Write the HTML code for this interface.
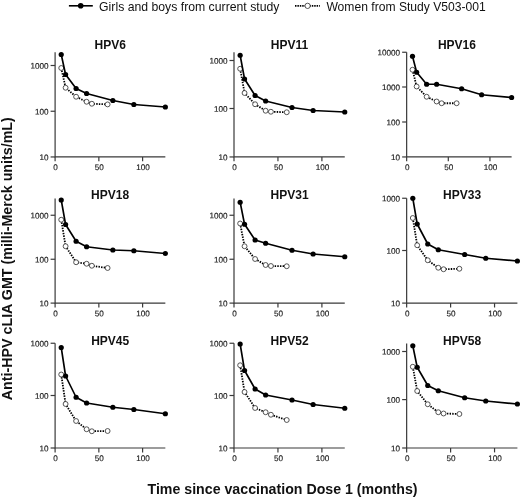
<!DOCTYPE html>
<html><head><meta charset="utf-8"><title>Figure</title>
<style>
html,body{margin:0;padding:0;background:#fff;}
svg{display:block;}
text{font-family:"Liberation Sans",Arial,sans-serif;fill:#1a1a1a;}
.t{font-size:8.1px;fill:#1a1a1a;stroke:#1a1a1a;stroke-width:0.15px;}
.ttl{font-size:12px;font-weight:bold;text-anchor:middle;fill:#111;}
.lg{font-size:12.2px;fill:#111;}
.al{font-size:14.2px;font-weight:bold;fill:#111;}
</style></head><body>
<svg width="520" height="499" viewBox="0 0 520 499">
<rect width="520" height="499" fill="#fff"/>

<line x1="68.9" y1="5.8" x2="92.8" y2="5.8" stroke="#000" stroke-width="1.6"/><circle cx="80.7" cy="5.8" r="2.8" fill="#000"/>
<text class="lg" x="99.1" y="10.6" textLength="180.3" lengthAdjust="spacingAndGlyphs">Girls and boys from current study</text>
<line x1="295" y1="5.85" x2="319.8" y2="5.85" stroke="#000" stroke-width="1.7" stroke-dasharray="1.5 0.9"/><circle cx="307.6" cy="5.85" r="2.65" fill="#fff" stroke="#383838" stroke-width="0.85"/>
<text class="lg" x="326.4" y="10.6" textLength="159.4" lengthAdjust="spacingAndGlyphs">Women from Study V503-001</text>
<text class="al" transform="translate(12.2,400.2) rotate(-90)" textLength="283" lengthAdjust="spacingAndGlyphs">Anti-HPV cLIA GMT (milli-Merck units/mL)</text>
<text class="al" x="147.5" y="493.7" textLength="270" lengthAdjust="spacingAndGlyphs">Time since vaccination Dose 1 (months)</text>
<g>
<text class="ttl" x="110.2" y="49">HPV6</text>
<path d="M55.10 52.30V156.95H165.35" fill="none" stroke="#3a3a3a" stroke-width="1.2"/>
<line x1="50.60" y1="65.50" x2="55.10" y2="65.50" stroke="#3a3a3a" stroke-width="1.2"/>
<text class="t" text-anchor="end" transform="translate(48.50 68.70) rotate(0.3)">1000</text>
<line x1="50.60" y1="111.25" x2="55.10" y2="111.25" stroke="#3a3a3a" stroke-width="1.2"/>
<text class="t" text-anchor="end" transform="translate(48.50 114.45) rotate(0.3)">100</text>
<line x1="50.60" y1="156.95" x2="55.10" y2="156.95" stroke="#3a3a3a" stroke-width="1.2"/>
<text class="t" text-anchor="end" transform="translate(48.50 160.15) rotate(0.3)">10</text>
<line x1="55.10" y1="156.95" x2="55.10" y2="161.35" stroke="#3a3a3a" stroke-width="1.2"/>
<text class="t" text-anchor="middle" transform="translate(55.60 170.05) rotate(0.3)">0</text>
<line x1="98.85" y1="156.95" x2="98.85" y2="161.35" stroke="#3a3a3a" stroke-width="1.2"/>
<text class="t" text-anchor="middle" transform="translate(99.35 170.05) rotate(0.3)">50</text>
<line x1="142.60" y1="156.95" x2="142.60" y2="161.35" stroke="#3a3a3a" stroke-width="1.2"/>
<text class="t" text-anchor="middle" transform="translate(143.10 170.05) rotate(0.3)">100</text>
<polyline points="61.23,68.00 65.60,87.75 76.10,96.75 86.60,101.75 91.85,103.75 107.60,104.40" fill="none" stroke="#000" stroke-width="1.8" stroke-dasharray="1.45 1.2"/>
<circle cx="61.23" cy="68.00" r="2.45" fill="#fff" stroke="#383838" stroke-width="0.85"/>
<circle cx="65.60" cy="87.75" r="2.45" fill="#fff" stroke="#383838" stroke-width="0.85"/>
<circle cx="76.10" cy="96.75" r="2.45" fill="#fff" stroke="#383838" stroke-width="0.85"/>
<circle cx="86.60" cy="101.75" r="2.45" fill="#fff" stroke="#383838" stroke-width="0.85"/>
<circle cx="91.85" cy="103.75" r="2.45" fill="#fff" stroke="#383838" stroke-width="0.85"/>
<circle cx="107.60" cy="104.40" r="2.45" fill="#fff" stroke="#383838" stroke-width="0.85"/>
<polyline points="61.23,54.50 65.60,74.50 76.10,88.50 86.60,93.50 112.85,100.50 133.85,104.50 165.35,107.00" fill="none" stroke="#000" stroke-width="1.65" stroke-linejoin="round"/>
<circle cx="61.23" cy="54.50" r="2.6" fill="#000"/>
<circle cx="65.60" cy="74.50" r="2.6" fill="#000"/>
<circle cx="76.10" cy="88.50" r="2.6" fill="#000"/>
<circle cx="86.60" cy="93.50" r="2.6" fill="#000"/>
<circle cx="112.85" cy="100.50" r="2.6" fill="#000"/>
<circle cx="133.85" cy="104.50" r="2.6" fill="#000"/>
<circle cx="165.35" cy="107.00" r="2.6" fill="#000"/>
</g>
<g>
<text class="ttl" x="289.5" y="49">HPV11</text>
<path d="M234.00 52.30V156.95H344.75" fill="none" stroke="#3a3a3a" stroke-width="1.2"/>
<line x1="229.50" y1="60.50" x2="234.00" y2="60.50" stroke="#3a3a3a" stroke-width="1.2"/>
<text class="t" text-anchor="end" transform="translate(227.40 63.70) rotate(0.3)">1000</text>
<line x1="229.50" y1="108.50" x2="234.00" y2="108.50" stroke="#3a3a3a" stroke-width="1.2"/>
<text class="t" text-anchor="end" transform="translate(227.40 111.70) rotate(0.3)">100</text>
<line x1="229.50" y1="156.95" x2="234.00" y2="156.95" stroke="#3a3a3a" stroke-width="1.2"/>
<text class="t" text-anchor="end" transform="translate(227.40 160.15) rotate(0.3)">10</text>
<line x1="234.00" y1="156.95" x2="234.00" y2="161.35" stroke="#3a3a3a" stroke-width="1.2"/>
<text class="t" text-anchor="middle" transform="translate(234.50 170.05) rotate(0.3)">0</text>
<line x1="277.95" y1="156.95" x2="277.95" y2="161.35" stroke="#3a3a3a" stroke-width="1.2"/>
<text class="t" text-anchor="middle" transform="translate(278.45 170.05) rotate(0.3)">50</text>
<line x1="321.90" y1="156.95" x2="321.90" y2="161.35" stroke="#3a3a3a" stroke-width="1.2"/>
<text class="t" text-anchor="middle" transform="translate(322.40 170.05) rotate(0.3)">100</text>
<polyline points="240.15,68.75 244.55,93.00 255.10,104.25 265.64,110.75 270.92,111.75 286.74,112.25" fill="none" stroke="#000" stroke-width="1.8" stroke-dasharray="1.45 1.2"/>
<circle cx="240.15" cy="68.75" r="2.45" fill="#fff" stroke="#383838" stroke-width="0.85"/>
<circle cx="244.55" cy="93.00" r="2.45" fill="#fff" stroke="#383838" stroke-width="0.85"/>
<circle cx="255.10" cy="104.25" r="2.45" fill="#fff" stroke="#383838" stroke-width="0.85"/>
<circle cx="265.64" cy="110.75" r="2.45" fill="#fff" stroke="#383838" stroke-width="0.85"/>
<circle cx="270.92" cy="111.75" r="2.45" fill="#fff" stroke="#383838" stroke-width="0.85"/>
<circle cx="286.74" cy="112.25" r="2.45" fill="#fff" stroke="#383838" stroke-width="0.85"/>
<polyline points="240.15,55.25 244.55,79.00 255.10,95.50 265.64,101.00 292.01,107.50 313.11,110.50 344.75,112.00" fill="none" stroke="#000" stroke-width="1.65" stroke-linejoin="round"/>
<circle cx="240.15" cy="55.25" r="2.6" fill="#000"/>
<circle cx="244.55" cy="79.00" r="2.6" fill="#000"/>
<circle cx="255.10" cy="95.50" r="2.6" fill="#000"/>
<circle cx="265.64" cy="101.00" r="2.6" fill="#000"/>
<circle cx="292.01" cy="107.50" r="2.6" fill="#000"/>
<circle cx="313.11" cy="110.50" r="2.6" fill="#000"/>
<circle cx="344.75" cy="112.00" r="2.6" fill="#000"/>
</g>
<g>
<text class="ttl" x="456.9" y="49">HPV16</text>
<path d="M406.65 52.25V156.95H511.61" fill="none" stroke="#3a3a3a" stroke-width="1.2"/>
<line x1="402.15" y1="52.25" x2="406.65" y2="52.25" stroke="#3a3a3a" stroke-width="1.2"/>
<text class="t" text-anchor="end" transform="translate(400.05 55.45) rotate(0.3)">10000</text>
<line x1="402.15" y1="87.00" x2="406.65" y2="87.00" stroke="#3a3a3a" stroke-width="1.2"/>
<text class="t" text-anchor="end" transform="translate(400.05 90.20) rotate(0.3)">1000</text>
<line x1="402.15" y1="122.00" x2="406.65" y2="122.00" stroke="#3a3a3a" stroke-width="1.2"/>
<text class="t" text-anchor="end" transform="translate(400.05 125.20) rotate(0.3)">100</text>
<line x1="402.15" y1="156.95" x2="406.65" y2="156.95" stroke="#3a3a3a" stroke-width="1.2"/>
<text class="t" text-anchor="end" transform="translate(400.05 160.15) rotate(0.3)">10</text>
<line x1="406.65" y1="156.95" x2="406.65" y2="161.35" stroke="#3a3a3a" stroke-width="1.2"/>
<text class="t" text-anchor="middle" transform="translate(407.15 170.05) rotate(0.3)">0</text>
<line x1="448.30" y1="156.95" x2="448.30" y2="161.35" stroke="#3a3a3a" stroke-width="1.2"/>
<text class="t" text-anchor="middle" transform="translate(448.80 170.05) rotate(0.3)">50</text>
<line x1="489.95" y1="156.95" x2="489.95" y2="161.35" stroke="#3a3a3a" stroke-width="1.2"/>
<text class="t" text-anchor="middle" transform="translate(490.45 170.05) rotate(0.3)">100</text>
<polyline points="412.48,69.75 416.65,86.50 426.64,96.75 436.64,101.50 441.64,103.25 456.63,103.25" fill="none" stroke="#000" stroke-width="1.8" stroke-dasharray="1.45 1.2"/>
<circle cx="412.48" cy="69.75" r="2.45" fill="#fff" stroke="#383838" stroke-width="0.85"/>
<circle cx="416.65" cy="86.50" r="2.45" fill="#fff" stroke="#383838" stroke-width="0.85"/>
<circle cx="426.64" cy="96.75" r="2.45" fill="#fff" stroke="#383838" stroke-width="0.85"/>
<circle cx="436.64" cy="101.50" r="2.45" fill="#fff" stroke="#383838" stroke-width="0.85"/>
<circle cx="441.64" cy="103.25" r="2.45" fill="#fff" stroke="#383838" stroke-width="0.85"/>
<circle cx="456.63" cy="103.25" r="2.45" fill="#fff" stroke="#383838" stroke-width="0.85"/>
<polyline points="412.48,56.25 416.65,72.25 426.64,84.25 436.64,84.25 461.63,88.75 481.62,94.75 511.61,97.50" fill="none" stroke="#000" stroke-width="1.65" stroke-linejoin="round"/>
<circle cx="412.48" cy="56.25" r="2.6" fill="#000"/>
<circle cx="416.65" cy="72.25" r="2.6" fill="#000"/>
<circle cx="426.64" cy="84.25" r="2.6" fill="#000"/>
<circle cx="436.64" cy="84.25" r="2.6" fill="#000"/>
<circle cx="461.63" cy="88.75" r="2.6" fill="#000"/>
<circle cx="481.62" cy="94.75" r="2.6" fill="#000"/>
<circle cx="511.61" cy="97.50" r="2.6" fill="#000"/>
</g>
<g>
<text class="ttl" x="110.1" y="198.5">HPV18</text>
<path d="M55.10 198.50V303.10H165.35" fill="none" stroke="#3a3a3a" stroke-width="1.2"/>
<line x1="50.60" y1="215.25" x2="55.10" y2="215.25" stroke="#3a3a3a" stroke-width="1.2"/>
<text class="t" text-anchor="end" transform="translate(48.50 218.45) rotate(0.3)">1000</text>
<line x1="50.60" y1="259.25" x2="55.10" y2="259.25" stroke="#3a3a3a" stroke-width="1.2"/>
<text class="t" text-anchor="end" transform="translate(48.50 262.45) rotate(0.3)">100</text>
<line x1="50.60" y1="303.10" x2="55.10" y2="303.10" stroke="#3a3a3a" stroke-width="1.2"/>
<text class="t" text-anchor="end" transform="translate(48.50 306.30) rotate(0.3)">10</text>
<line x1="55.10" y1="303.10" x2="55.10" y2="307.50" stroke="#3a3a3a" stroke-width="1.2"/>
<text class="t" text-anchor="middle" transform="translate(55.60 316.20) rotate(0.3)">0</text>
<line x1="98.85" y1="303.10" x2="98.85" y2="307.50" stroke="#3a3a3a" stroke-width="1.2"/>
<text class="t" text-anchor="middle" transform="translate(99.35 316.20) rotate(0.3)">50</text>
<line x1="142.60" y1="303.10" x2="142.60" y2="307.50" stroke="#3a3a3a" stroke-width="1.2"/>
<text class="t" text-anchor="middle" transform="translate(143.10 316.20) rotate(0.3)">100</text>
<polyline points="61.23,219.75 65.60,246.25 76.10,262.25 86.60,263.75 91.85,265.75 107.60,268.00" fill="none" stroke="#000" stroke-width="1.8" stroke-dasharray="1.45 1.2"/>
<circle cx="61.23" cy="219.75" r="2.45" fill="#fff" stroke="#383838" stroke-width="0.85"/>
<circle cx="65.60" cy="246.25" r="2.45" fill="#fff" stroke="#383838" stroke-width="0.85"/>
<circle cx="76.10" cy="262.25" r="2.45" fill="#fff" stroke="#383838" stroke-width="0.85"/>
<circle cx="86.60" cy="263.75" r="2.45" fill="#fff" stroke="#383838" stroke-width="0.85"/>
<circle cx="91.85" cy="265.75" r="2.45" fill="#fff" stroke="#383838" stroke-width="0.85"/>
<circle cx="107.60" cy="268.00" r="2.45" fill="#fff" stroke="#383838" stroke-width="0.85"/>
<polyline points="61.23,200.00 65.60,224.50 76.10,241.25 86.60,246.75 112.85,250.00 133.85,250.75 165.35,253.50" fill="none" stroke="#000" stroke-width="1.65" stroke-linejoin="round"/>
<circle cx="61.23" cy="200.00" r="2.6" fill="#000"/>
<circle cx="65.60" cy="224.50" r="2.6" fill="#000"/>
<circle cx="76.10" cy="241.25" r="2.6" fill="#000"/>
<circle cx="86.60" cy="246.75" r="2.6" fill="#000"/>
<circle cx="112.85" cy="250.00" r="2.6" fill="#000"/>
<circle cx="133.85" cy="250.75" r="2.6" fill="#000"/>
<circle cx="165.35" cy="253.50" r="2.6" fill="#000"/>
</g>
<g>
<text class="ttl" x="289.6" y="198.5">HPV31</text>
<path d="M234.00 198.50V303.10H344.75" fill="none" stroke="#3a3a3a" stroke-width="1.2"/>
<line x1="229.50" y1="215.25" x2="234.00" y2="215.25" stroke="#3a3a3a" stroke-width="1.2"/>
<text class="t" text-anchor="end" transform="translate(227.40 218.45) rotate(0.3)">1000</text>
<line x1="229.50" y1="259.25" x2="234.00" y2="259.25" stroke="#3a3a3a" stroke-width="1.2"/>
<text class="t" text-anchor="end" transform="translate(227.40 262.45) rotate(0.3)">100</text>
<line x1="229.50" y1="303.10" x2="234.00" y2="303.10" stroke="#3a3a3a" stroke-width="1.2"/>
<text class="t" text-anchor="end" transform="translate(227.40 306.30) rotate(0.3)">10</text>
<line x1="234.00" y1="303.10" x2="234.00" y2="307.50" stroke="#3a3a3a" stroke-width="1.2"/>
<text class="t" text-anchor="middle" transform="translate(234.50 316.20) rotate(0.3)">0</text>
<line x1="277.95" y1="303.10" x2="277.95" y2="307.50" stroke="#3a3a3a" stroke-width="1.2"/>
<text class="t" text-anchor="middle" transform="translate(278.45 316.20) rotate(0.3)">50</text>
<line x1="321.90" y1="303.10" x2="321.90" y2="307.50" stroke="#3a3a3a" stroke-width="1.2"/>
<text class="t" text-anchor="middle" transform="translate(322.40 316.20) rotate(0.3)">100</text>
<polyline points="240.15,223.50 244.55,246.25 255.10,259.00 265.64,265.00 270.92,266.00 286.74,266.25" fill="none" stroke="#000" stroke-width="1.8" stroke-dasharray="1.45 1.2"/>
<circle cx="240.15" cy="223.50" r="2.45" fill="#fff" stroke="#383838" stroke-width="0.85"/>
<circle cx="244.55" cy="246.25" r="2.45" fill="#fff" stroke="#383838" stroke-width="0.85"/>
<circle cx="255.10" cy="259.00" r="2.45" fill="#fff" stroke="#383838" stroke-width="0.85"/>
<circle cx="265.64" cy="265.00" r="2.45" fill="#fff" stroke="#383838" stroke-width="0.85"/>
<circle cx="270.92" cy="266.00" r="2.45" fill="#fff" stroke="#383838" stroke-width="0.85"/>
<circle cx="286.74" cy="266.25" r="2.45" fill="#fff" stroke="#383838" stroke-width="0.85"/>
<polyline points="240.15,202.25 244.55,224.25 255.10,240.00 265.64,243.25 292.01,250.25 313.11,254.00 344.75,256.75" fill="none" stroke="#000" stroke-width="1.65" stroke-linejoin="round"/>
<circle cx="240.15" cy="202.25" r="2.6" fill="#000"/>
<circle cx="244.55" cy="224.25" r="2.6" fill="#000"/>
<circle cx="255.10" cy="240.00" r="2.6" fill="#000"/>
<circle cx="265.64" cy="243.25" r="2.6" fill="#000"/>
<circle cx="292.01" cy="250.25" r="2.6" fill="#000"/>
<circle cx="313.11" cy="254.00" r="2.6" fill="#000"/>
<circle cx="344.75" cy="256.75" r="2.6" fill="#000"/>
</g>
<g>
<text class="ttl" x="462.1" y="198.5">HPV33</text>
<path d="M406.65 198.25V303.10H517.40" fill="none" stroke="#3a3a3a" stroke-width="1.2"/>
<line x1="402.15" y1="198.25" x2="406.65" y2="198.25" stroke="#3a3a3a" stroke-width="1.2"/>
<text class="t" text-anchor="end" transform="translate(400.05 201.45) rotate(0.3)">1000</text>
<line x1="402.15" y1="250.50" x2="406.65" y2="250.50" stroke="#3a3a3a" stroke-width="1.2"/>
<text class="t" text-anchor="end" transform="translate(400.05 253.70) rotate(0.3)">100</text>
<line x1="402.15" y1="303.10" x2="406.65" y2="303.10" stroke="#3a3a3a" stroke-width="1.2"/>
<text class="t" text-anchor="end" transform="translate(400.05 306.30) rotate(0.3)">10</text>
<line x1="406.65" y1="303.10" x2="406.65" y2="307.50" stroke="#3a3a3a" stroke-width="1.2"/>
<text class="t" text-anchor="middle" transform="translate(407.15 316.20) rotate(0.3)">0</text>
<line x1="450.60" y1="303.10" x2="450.60" y2="307.50" stroke="#3a3a3a" stroke-width="1.2"/>
<text class="t" text-anchor="middle" transform="translate(451.10 316.20) rotate(0.3)">50</text>
<line x1="494.55" y1="303.10" x2="494.55" y2="307.50" stroke="#3a3a3a" stroke-width="1.2"/>
<text class="t" text-anchor="middle" transform="translate(495.05 316.20) rotate(0.3)">100</text>
<polyline points="412.80,218.00 417.20,245.25 427.75,260.25 438.29,267.75 443.57,269.25 459.39,268.75" fill="none" stroke="#000" stroke-width="1.8" stroke-dasharray="1.45 1.2"/>
<circle cx="412.80" cy="218.00" r="2.45" fill="#fff" stroke="#383838" stroke-width="0.85"/>
<circle cx="417.20" cy="245.25" r="2.45" fill="#fff" stroke="#383838" stroke-width="0.85"/>
<circle cx="427.75" cy="260.25" r="2.45" fill="#fff" stroke="#383838" stroke-width="0.85"/>
<circle cx="438.29" cy="267.75" r="2.45" fill="#fff" stroke="#383838" stroke-width="0.85"/>
<circle cx="443.57" cy="269.25" r="2.45" fill="#fff" stroke="#383838" stroke-width="0.85"/>
<circle cx="459.39" cy="268.75" r="2.45" fill="#fff" stroke="#383838" stroke-width="0.85"/>
<polyline points="412.80,198.25 417.20,224.00 427.75,244.00 438.29,249.75 464.66,254.50 485.76,258.25 517.40,261.00" fill="none" stroke="#000" stroke-width="1.65" stroke-linejoin="round"/>
<circle cx="412.80" cy="198.25" r="2.6" fill="#000"/>
<circle cx="417.20" cy="224.00" r="2.6" fill="#000"/>
<circle cx="427.75" cy="244.00" r="2.6" fill="#000"/>
<circle cx="438.29" cy="249.75" r="2.6" fill="#000"/>
<circle cx="464.66" cy="254.50" r="2.6" fill="#000"/>
<circle cx="485.76" cy="258.25" r="2.6" fill="#000"/>
<circle cx="517.40" cy="261.00" r="2.6" fill="#000"/>
</g>
<g>
<text class="ttl" x="110.2" y="344.75">HPV45</text>
<path d="M55.10 343.25V448.00H165.35" fill="none" stroke="#3a3a3a" stroke-width="1.2"/>
<line x1="50.60" y1="343.25" x2="55.10" y2="343.25" stroke="#3a3a3a" stroke-width="1.2"/>
<text class="t" text-anchor="end" transform="translate(48.50 346.45) rotate(0.3)">1000</text>
<line x1="50.60" y1="395.50" x2="55.10" y2="395.50" stroke="#3a3a3a" stroke-width="1.2"/>
<text class="t" text-anchor="end" transform="translate(48.50 398.70) rotate(0.3)">100</text>
<line x1="50.60" y1="448.00" x2="55.10" y2="448.00" stroke="#3a3a3a" stroke-width="1.2"/>
<text class="t" text-anchor="end" transform="translate(48.50 451.20) rotate(0.3)">10</text>
<line x1="55.10" y1="448.00" x2="55.10" y2="452.40" stroke="#3a3a3a" stroke-width="1.2"/>
<text class="t" text-anchor="middle" transform="translate(55.60 461.10) rotate(0.3)">0</text>
<line x1="98.85" y1="448.00" x2="98.85" y2="452.40" stroke="#3a3a3a" stroke-width="1.2"/>
<text class="t" text-anchor="middle" transform="translate(99.35 461.10) rotate(0.3)">50</text>
<line x1="142.60" y1="448.00" x2="142.60" y2="452.40" stroke="#3a3a3a" stroke-width="1.2"/>
<text class="t" text-anchor="middle" transform="translate(143.10 461.10) rotate(0.3)">100</text>
<polyline points="61.23,374.50 65.60,404.00 76.10,421.00 86.60,429.25 91.85,431.25 107.60,431.00" fill="none" stroke="#000" stroke-width="1.8" stroke-dasharray="1.45 1.2"/>
<circle cx="61.23" cy="374.50" r="2.45" fill="#fff" stroke="#383838" stroke-width="0.85"/>
<circle cx="65.60" cy="404.00" r="2.45" fill="#fff" stroke="#383838" stroke-width="0.85"/>
<circle cx="76.10" cy="421.00" r="2.45" fill="#fff" stroke="#383838" stroke-width="0.85"/>
<circle cx="86.60" cy="429.25" r="2.45" fill="#fff" stroke="#383838" stroke-width="0.85"/>
<circle cx="91.85" cy="431.25" r="2.45" fill="#fff" stroke="#383838" stroke-width="0.85"/>
<circle cx="107.60" cy="431.00" r="2.45" fill="#fff" stroke="#383838" stroke-width="0.85"/>
<polyline points="61.23,347.50 65.60,376.00 76.10,397.25 86.60,403.00 112.85,407.25 133.85,409.50 165.35,413.75" fill="none" stroke="#000" stroke-width="1.65" stroke-linejoin="round"/>
<circle cx="61.23" cy="347.50" r="2.6" fill="#000"/>
<circle cx="65.60" cy="376.00" r="2.6" fill="#000"/>
<circle cx="76.10" cy="397.25" r="2.6" fill="#000"/>
<circle cx="86.60" cy="403.00" r="2.6" fill="#000"/>
<circle cx="112.85" cy="407.25" r="2.6" fill="#000"/>
<circle cx="133.85" cy="409.50" r="2.6" fill="#000"/>
<circle cx="165.35" cy="413.75" r="2.6" fill="#000"/>
</g>
<g>
<text class="ttl" x="289.6" y="344.75">HPV52</text>
<path d="M234.00 343.25V448.00H344.75" fill="none" stroke="#3a3a3a" stroke-width="1.2"/>
<line x1="229.50" y1="343.25" x2="234.00" y2="343.25" stroke="#3a3a3a" stroke-width="1.2"/>
<text class="t" text-anchor="end" transform="translate(227.40 346.45) rotate(0.3)">1000</text>
<line x1="229.50" y1="395.50" x2="234.00" y2="395.50" stroke="#3a3a3a" stroke-width="1.2"/>
<text class="t" text-anchor="end" transform="translate(227.40 398.70) rotate(0.3)">100</text>
<line x1="229.50" y1="448.00" x2="234.00" y2="448.00" stroke="#3a3a3a" stroke-width="1.2"/>
<text class="t" text-anchor="end" transform="translate(227.40 451.20) rotate(0.3)">10</text>
<line x1="234.00" y1="448.00" x2="234.00" y2="452.40" stroke="#3a3a3a" stroke-width="1.2"/>
<text class="t" text-anchor="middle" transform="translate(234.50 461.10) rotate(0.3)">0</text>
<line x1="277.95" y1="448.00" x2="277.95" y2="452.40" stroke="#3a3a3a" stroke-width="1.2"/>
<text class="t" text-anchor="middle" transform="translate(278.45 461.10) rotate(0.3)">50</text>
<line x1="321.90" y1="448.00" x2="321.90" y2="452.40" stroke="#3a3a3a" stroke-width="1.2"/>
<text class="t" text-anchor="middle" transform="translate(322.40 461.10) rotate(0.3)">100</text>
<polyline points="240.15,365.25 244.55,392.00 255.10,408.00 265.64,412.25 270.92,414.75 286.74,420.00" fill="none" stroke="#000" stroke-width="1.8" stroke-dasharray="1.45 1.2"/>
<circle cx="240.15" cy="365.25" r="2.45" fill="#fff" stroke="#383838" stroke-width="0.85"/>
<circle cx="244.55" cy="392.00" r="2.45" fill="#fff" stroke="#383838" stroke-width="0.85"/>
<circle cx="255.10" cy="408.00" r="2.45" fill="#fff" stroke="#383838" stroke-width="0.85"/>
<circle cx="265.64" cy="412.25" r="2.45" fill="#fff" stroke="#383838" stroke-width="0.85"/>
<circle cx="270.92" cy="414.75" r="2.45" fill="#fff" stroke="#383838" stroke-width="0.85"/>
<circle cx="286.74" cy="420.00" r="2.45" fill="#fff" stroke="#383838" stroke-width="0.85"/>
<polyline points="240.15,344.00 244.55,370.50 255.10,389.00 265.64,395.00 292.01,400.00 313.11,404.50 344.75,408.25" fill="none" stroke="#000" stroke-width="1.65" stroke-linejoin="round"/>
<circle cx="240.15" cy="344.00" r="2.6" fill="#000"/>
<circle cx="244.55" cy="370.50" r="2.6" fill="#000"/>
<circle cx="255.10" cy="389.00" r="2.6" fill="#000"/>
<circle cx="265.64" cy="395.00" r="2.6" fill="#000"/>
<circle cx="292.01" cy="400.00" r="2.6" fill="#000"/>
<circle cx="313.11" cy="404.50" r="2.6" fill="#000"/>
<circle cx="344.75" cy="408.25" r="2.6" fill="#000"/>
</g>
<g>
<text class="ttl" x="462.1" y="344.75">HPV58</text>
<path d="M406.65 343.50V448.00H517.40" fill="none" stroke="#3a3a3a" stroke-width="1.2"/>
<line x1="402.15" y1="351.50" x2="406.65" y2="351.50" stroke="#3a3a3a" stroke-width="1.2"/>
<text class="t" text-anchor="end" transform="translate(400.05 354.70) rotate(0.3)">1000</text>
<line x1="402.15" y1="399.60" x2="406.65" y2="399.60" stroke="#3a3a3a" stroke-width="1.2"/>
<text class="t" text-anchor="end" transform="translate(400.05 402.80) rotate(0.3)">100</text>
<line x1="402.15" y1="448.00" x2="406.65" y2="448.00" stroke="#3a3a3a" stroke-width="1.2"/>
<text class="t" text-anchor="end" transform="translate(400.05 451.20) rotate(0.3)">10</text>
<line x1="406.65" y1="448.00" x2="406.65" y2="452.40" stroke="#3a3a3a" stroke-width="1.2"/>
<text class="t" text-anchor="middle" transform="translate(407.15 461.10) rotate(0.3)">0</text>
<line x1="450.60" y1="448.00" x2="450.60" y2="452.40" stroke="#3a3a3a" stroke-width="1.2"/>
<text class="t" text-anchor="middle" transform="translate(451.10 461.10) rotate(0.3)">50</text>
<line x1="494.55" y1="448.00" x2="494.55" y2="452.40" stroke="#3a3a3a" stroke-width="1.2"/>
<text class="t" text-anchor="middle" transform="translate(495.05 461.10) rotate(0.3)">100</text>
<polyline points="412.80,366.75 417.20,391.00 427.75,404.25 438.29,412.25 443.57,413.50 459.39,414.00" fill="none" stroke="#000" stroke-width="1.8" stroke-dasharray="1.45 1.2"/>
<circle cx="412.80" cy="366.75" r="2.45" fill="#fff" stroke="#383838" stroke-width="0.85"/>
<circle cx="417.20" cy="391.00" r="2.45" fill="#fff" stroke="#383838" stroke-width="0.85"/>
<circle cx="427.75" cy="404.25" r="2.45" fill="#fff" stroke="#383838" stroke-width="0.85"/>
<circle cx="438.29" cy="412.25" r="2.45" fill="#fff" stroke="#383838" stroke-width="0.85"/>
<circle cx="443.57" cy="413.50" r="2.45" fill="#fff" stroke="#383838" stroke-width="0.85"/>
<circle cx="459.39" cy="414.00" r="2.45" fill="#fff" stroke="#383838" stroke-width="0.85"/>
<polyline points="412.80,345.75 417.20,367.25 427.75,385.50 438.29,390.75 464.66,397.75 485.76,401.00 517.40,404.00" fill="none" stroke="#000" stroke-width="1.65" stroke-linejoin="round"/>
<circle cx="412.80" cy="345.75" r="2.6" fill="#000"/>
<circle cx="417.20" cy="367.25" r="2.6" fill="#000"/>
<circle cx="427.75" cy="385.50" r="2.6" fill="#000"/>
<circle cx="438.29" cy="390.75" r="2.6" fill="#000"/>
<circle cx="464.66" cy="397.75" r="2.6" fill="#000"/>
<circle cx="485.76" cy="401.00" r="2.6" fill="#000"/>
<circle cx="517.40" cy="404.00" r="2.6" fill="#000"/>
</g>
</svg></body></html>
